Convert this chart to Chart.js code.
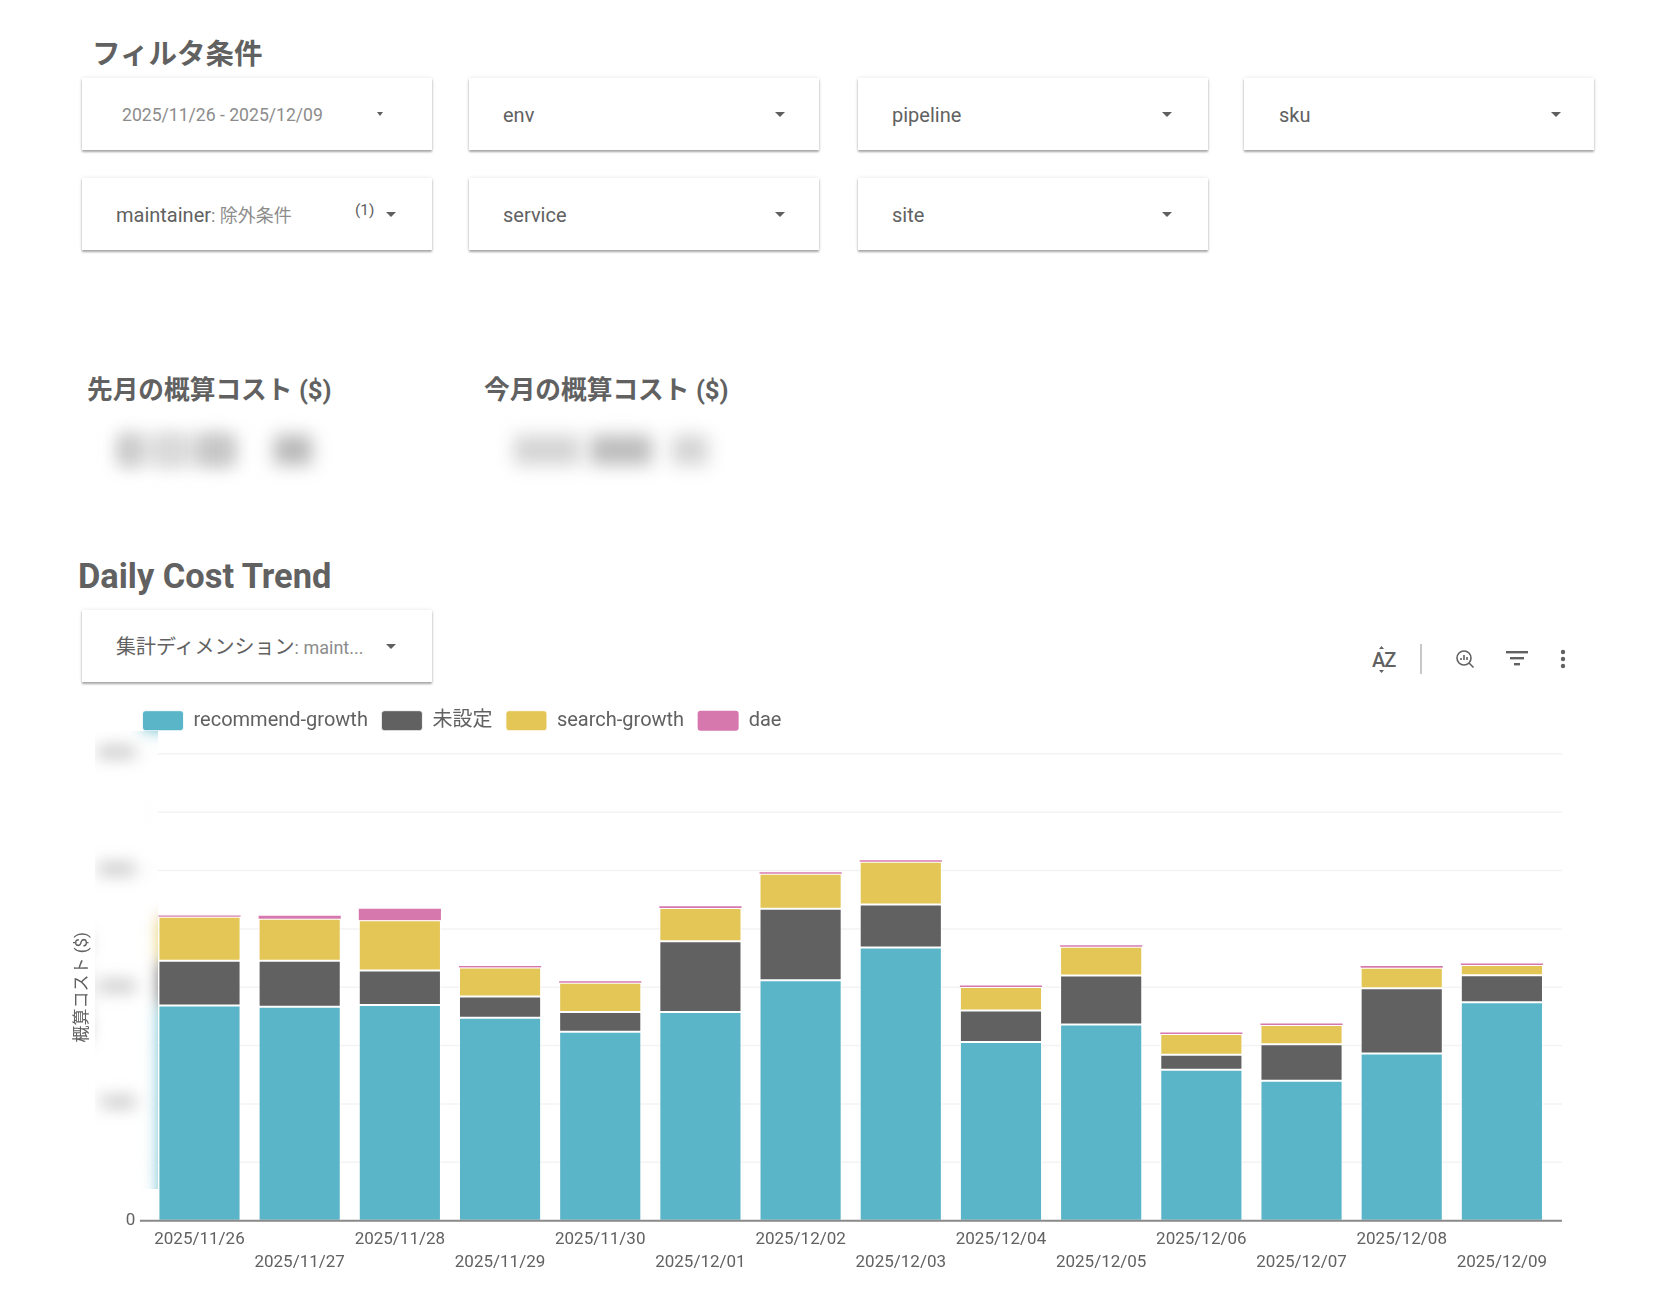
<!DOCTYPE html>
<html>
<head>
<meta charset="utf-8">
<script src="https://cdn.jsdelivr.net/npm/chart.js@4/dist/chart.umd.min.js"></script>
<style>
  html, body { margin: 0; background: #fff; }
  body { width: 1664px; height: 1306px; overflow: hidden; position: relative; font-family: Roboto, "Noto Sans CJK JP", sans-serif; color: #616161; }
  .abs { position: absolute; white-space: nowrap; }
  .head { font-weight: 700; line-height: 36px; }
  .card { position: absolute; width: 350px; height: 72px; background: #fff; box-shadow: 0 2px 2px rgba(0,0,0,.32), 0 0 4px rgba(0,0,0,.1); }
  .label { position: absolute; white-space: nowrap; font-size: 20px; line-height: 24px; top: 25px; }
  .dim { color: #8c8c8c; font-size: 18px; }
  .arrow { position: absolute; top: 34px; width: 0; height: 0; border-left: 5px solid transparent; border-right: 5px solid transparent; border-top: 5px solid #5f5f5f; }
  .blob { position: absolute; height: 30px; top: 435px; background: #c4c4c4; filter: blur(9px); }
  #wrap { position: absolute; left: 0; top: 690px; width: 1664px; height: 616px; }
</style>
</head>
<body>
<div class="abs head" style="left:92px;top:37px;font-size:28.500px">フィルタ条件</div>

<div class="card" style="left:82px;top:78px">
  <div class="label dim" style="left:40px;font-size:17.600px">2025/11/26 - 2025/12/09</div>
  <div class="arrow" style="left:295px;border-width:4px 3px 0 3px"></div>
</div>
<div class="card" style="left:469px;top:78px"><div class="label" style="left:34px">env</div><div class="arrow" style="left:306px"></div></div>
<div class="card" style="left:858px;top:78px"><div class="label" style="left:34px">pipeline</div><div class="arrow" style="left:304px"></div></div>
<div class="card" style="left:1244px;top:78px"><div class="label" style="left:35px">sku</div><div class="arrow" style="left:307px"></div></div>

<div class="card" style="left:82px;top:178px">
  <div class="label" style="left:34px">maintainer<span class="dim">: 除外条件</span></div>
  <div class="label" style="left:273px;top:20px;font-size:15.500px">(1)</div>
  <div class="arrow" style="left:304px"></div>
</div>
<div class="card" style="left:469px;top:178px"><div class="label" style="left:34px">service</div><div class="arrow" style="left:306px"></div></div>
<div class="card" style="left:858px;top:178px"><div class="label" style="left:34px">site</div><div class="arrow" style="left:304px"></div></div>

<div class="abs head" style="left:87px;top:372px;font-size:25.700px">先月の概算コスト ($)</div>
<div class="abs head" style="left:484px;top:372px;font-size:25.700px">今月の概算コスト ($)</div>
<div class="blob" style="left:119px;width:116px;background:#e2e2e2"></div>
<div class="blob" style="left:119px;width:20px"></div>
<div class="blob" style="left:157px;width:26px;background:#d8d8d8"></div>
<div class="blob" style="left:198px;width:36px"></div>
<div class="blob" style="left:274px;width:38px;background:#b8b8b8"></div>
<div class="blob" style="left:514px;width:66px;background:#d4d4d4"></div>
<div class="blob" style="left:590px;width:62px;background:#bcbcbc"></div>
<div class="blob" style="left:672px;width:36px;background:#d4d4d4"></div>

<div class="abs head" style="left:78px;top:558px;font-size:34.400px">Daily Cost Trend</div>

<div class="card" style="left:82px;top:610px">
  <div class="label" style="left:34px">集計ディメンション<span class="dim">: maint...</span></div>
  <div class="arrow" style="left:304px"></div>
</div>

<!-- toolbar icons -->
<div class="abs" style="left:1372px;top:650px;font-size:20px;font-weight:500;line-height:20px;letter-spacing:-1px">AZ</div>
<svg class="abs" style="left:1373px;top:645px" width="24" height="30" fill="#616161">
  <path d="M6 4l2.500-3 2.500 3zM6 25l2.500 3 2.500-3z"/>
</svg>
<div class="abs" style="left:1420px;top:644px;width:2px;height:30px;background:#c8c8c8"></div>
<svg class="abs" style="left:1454px;top:648px" width="22" height="22" fill="none" stroke="#616161" stroke-width="1.600">
  <circle cx="10" cy="10" r="7"/><path d="M15 15l4.500 4.500"/><path d="M7 12v-2M10 12V7M13 12v-3"/>
</svg>
<svg class="abs" style="left:1506px;top:650px" width="22" height="18" fill="#616161">
  <rect x="0" y="1" width="22" height="2.400"/><rect x="4" y="7" width="14" height="2.400"/><rect x="8" y="13" width="6" height="2.400"/>
</svg>
<svg class="abs" style="left:1559px;top:649px" width="8" height="20" fill="#616161">
  <circle cx="4" cy="3" r="2.200"/><circle cx="4" cy="10" r="2.200"/><circle cx="4" cy="17" r="2.200"/>
</svg>

<div id="wrap"><canvas id="chart1" width="1664" height="616"></canvas></div>

<script>
var dates = ["2025/11/26", "2025/11/27", "2025/11/28", "2025/11/29", "2025/11/30", "2025/12/01", "2025/12/02",
             "2025/12/03", "2025/12/04", "2025/12/05", "2025/12/06", "2025/12/07", "2025/12/08", "2025/12/09"];
var recommendGrowth = [1843, 1834, 1849, 1738, 1618, 1789, 2061, 2340, 1530, 1680, 1294, 1200, 1432, 1871];
var unset           = [383, 392, 294, 183, 171, 606, 611, 368, 270, 420, 128, 311, 559, 232];
var searchGrowth    = [377, 360, 432, 249, 249, 285, 300, 367, 203, 246, 177, 166, 177, 87];
var dae             = [12, 26, 97, 13, 13, 13, 13, 12, 13, 13, 13, 13, 13, 13];
var seriesNames = ["recommend-growth", "未設定", "search-growth", "dae"];
var yMax = 4000;
var yStep = 500;

var fontFamily = 'Roboto, "Noto Sans CJK JP", sans-serif';
var textColor = "#616161";

function makeSet(name, values, color, border) {
  return {
    label: name,
    data: values,
    backgroundColor: color,
    borderColor: "rgba(255,255,255,0.85)",
    borderWidth: border,
    borderSkipped: false,
    barPercentage: 0.82,
    categoryPercentage: 1
  };
}

// the grid and axis line stick out past the plot, and the y labels are blurred
var sheetPlugin = {
  id: "sheet",
  afterLayout: function(chart) {
    chart.legend.left = 129;
    chart.legend.top = 7.2;
  },
  beforeDatasetsDraw: function(chart) {
    var ctx = chart.ctx, area = chart.chartArea, y = chart.scales.y;
    ctx.save();
    ctx.strokeStyle = "#f3f3f3";
    ctx.lineWidth = 1.5;
    y.ticks.forEach(function(t) {
      var py = y.getPixelForValue(t.value);
      ctx.beginPath();
      ctx.moveTo(area.left - 9.5, py);
      ctx.lineTo(area.right + 10, py);
      ctx.stroke();
    });
    ctx.restore();
  },
  afterDatasetsDraw: function(chart) {
    var ctx = chart.ctx, area = chart.chartArea;
    ctx.save();
    ctx.strokeStyle = "#8a8a8a";
    ctx.lineWidth = 2;
    ctx.beginPath();
    ctx.moveTo(area.left - 9.5, area.bottom);
    ctx.lineTo(area.right + 10, area.bottom);
    ctx.stroke();
    ctx.restore();
  },
  afterDraw: function(chart) {
    var ctx = chart.ctx, area = chart.chartArea, ratio = chart.currentDevicePixelRatio;
    var copy = document.createElement("canvas");
    copy.width = chart.canvas.width;
    copy.height = chart.canvas.height;
    copy.getContext("2d").drawImage(chart.canvas, 0, 0);
    ctx.save();
    ctx.setTransform(ratio, 0, 0, ratio, 0, 0);
    ctx.beginPath();
    ctx.rect(95, 41, area.left + 8.6 - 95, 458);
    ctx.clip();
    ctx.fillStyle = "#fff";
    ctx.fillRect(95, 41, area.left + 8.6 - 95, 458);
    ctx.filter = "blur(8px)";
    ctx.drawImage(copy, 0, 0, chart.width, chart.height);
    ctx.restore();
  }
};

var datos = {
  type: "bar",
  data: {
    labels: dates,
    datasets: [
      makeSet(seriesNames[0], recommendGrowth, "#5bb5c8", 1),
      makeSet(seriesNames[1], unset, "#616161", 1),
      makeSet(seriesNames[2], searchGrowth, "#e3c656", 1),
      makeSet(seriesNames[3], dae, "#d678ad", 0)
    ]
  },
  options: {
    responsive: false,
    animation: false,
    events: [],
    layout: { padding: { left: 68, right: 112, top: 20.3, bottom: 0 } },
    plugins: {
      tooltip: { enabled: false },
      legend: {
        position: "top",
        align: "start",
        labels: {
          boxWidth: 41,
          boxHeight: 20,
          padding: 13.5,
          useBorderRadius: true,
          borderRadius: 3,
          color: textColor,
          font: { family: fontFamily, size: 20 }
        }
      }
    },
    scales: {
      x: {
        stacked: true,
        grid: { display: false, drawTicks: false },
        border: { display: false },
        afterFit: function(scale) { scale.height = 85.3; scale.paddingLeft = 0; scale.paddingRight = 0; },
        ticks: {
          autoSkip: false,
          maxRotation: 0,
          minRotation: 0,
          padding: 8,
          color: textColor,
          font: { family: fontFamily, size: 17, lineHeight: 23 / 17 },
          callback: function(value, index) {
            return index % 2 ? ["", dates[index]] : dates[index];
          }
        }
      },
      y: {
        stacked: true,
        min: 0,
        max: yMax,
        grid: { display: false, drawTicks: false },
        border: { display: false },
        afterFit: function(scale) { scale.width = 81.4; scale.paddingTop = 0; scale.paddingBottom = 0; },
        title: {
          display: true,
          text: "概算コスト ($)",
          color: textColor,
          padding: { top: 4.5, bottom: 0 },
          font: { family: fontFamily, size: 17 }
        },
        ticks: {
          stepSize: yStep,
          autoSkip: false,
          padding: 14,
          color: textColor,
          font: { family: fontFamily, size: 17 },
          callback: function(value) {
            return value % 1000 === 0 ? value : "";
          }
        }
      }
    }
  },
  plugins: [sheetPlugin]
};

var canvas = document.getElementById("chart1").getContext("2d");
window.bars = new Chart(canvas, datos);
</script>
</body>
</html>
